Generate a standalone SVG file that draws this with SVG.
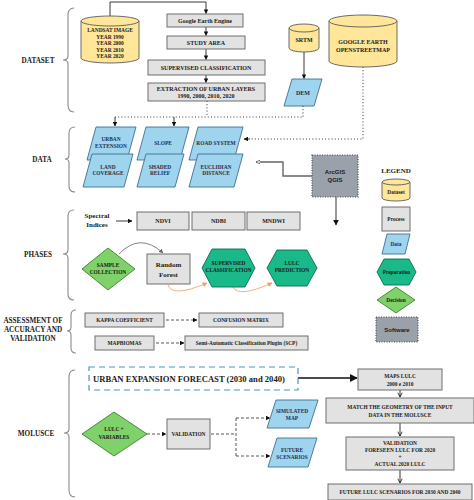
<svg xmlns="http://www.w3.org/2000/svg" width="474" height="500" viewBox="0 0 474 500">
<style>
text{font-family:"Liberation Serif","DejaVu Serif",serif;font-weight:bold;fill:#1a1a1a;text-anchor:middle}
.s{font-family:"Liberation Sans",Arial,sans-serif}
.lbl{font-size:7.2px}
.t5{font-size:5.4px}
.t6{font-size:6px}
.t7{font-size:7px}
.box{fill:#e2e2e2;stroke:#6e6e6e;stroke-width:1}
.cyl{fill:#ffe699;stroke:#5a5a5a;stroke-width:0.9}
.par{fill:#9fd4ef;stroke:#3d6f93;stroke-width:0.9}
.hex{fill:#19b98a;stroke:#0d6b50;stroke-width:0.9}
.dia{fill:#7fd16a;stroke:#3f7f2f;stroke-width:0.9}
.sw{fill:#9aa1aa;stroke:#4a4f55;stroke-width:1.2;stroke-dasharray:1 1.5}
.brace{fill:none;stroke:#8a8a8a;stroke-width:1.1}
.ln{fill:none;stroke:#222;stroke-width:0.9}
.dot{fill:none;stroke:#333;stroke-width:1;stroke-dasharray:1 2.2}
.dash{fill:none;stroke:#444;stroke-width:0.9;stroke-dasharray:3 2}
.pt{fill:#1f2f4a}
</style>
<defs>
<marker id="ah" viewBox="0 0 10 10" refX="9" refY="5" markerWidth="5" markerHeight="5" orient="auto"><path d="M0,0L10,5L0,10z" fill="#111"/></marker>
<marker id="av" viewBox="0 0 10 10" refX="9" refY="5" markerWidth="6" markerHeight="6" orient="auto"><path d="M1,1L9,5L1,9" fill="none" stroke="#111" stroke-width="1.5"/></marker>
<marker id="ao" viewBox="0 0 10 10" refX="9" refY="5" markerWidth="5" markerHeight="5" orient="auto"><path d="M0,0L10,5L0,10z" fill="#f0a060"/></marker>
<marker id="ag" viewBox="0 0 10 10" refX="9" refY="5" markerWidth="5" markerHeight="5" orient="auto"><path d="M0,0L10,5L0,10z" fill="#666"/></marker>
<marker id="aw" viewBox="0 0 10 10" refX="9" refY="5" markerWidth="3.2" markerHeight="3.2" orient="auto"><path d="M0,1L10,5L0,9z" fill="#fff" stroke="#444" stroke-width="1.5"/></marker>
</defs>

<g id="braces">
<path class="brace" d="M74,8 Q68,8 68,15 L68,56 Q68,60 63,60 Q68,60 68,64 L68,105 Q68,112 74,112"/>
<text class="lbl" x="38" y="62.5">DATASET</text>
<path class="brace" d="M75,127 Q69,127 69,133 L69,155 Q69,159 65,159 Q69,159 69,163 L69,186 Q69,192 75,192"/>
<text class="lbl" x="42" y="161.5">DATA</text>
<path class="brace" d="M74,210 Q68,210 68,216 L68,250 Q68,254 63,254 Q68,254 68,258 L68,294 Q68,300 74,300"/>
<text class="lbl" x="38" y="256.5">PHASES</text>
<path class="brace" d="M76,310 Q71,310 71,315 L71,327 Q71,331 67,331 Q71,331 71,335 L71,348 Q71,353 76,353"/>
<text class="lbl" x="33" y="322.5">ASSESSMENT OF</text>
<text class="lbl" x="33" y="331.5">ACCURACY AND</text>
<text class="lbl" x="33" y="340.5">VALIDATION</text>
<path class="brace" d="M75,370 Q69,370 69,377 L69,429 Q69,433 64,433 Q69,433 69,437 L69,490 Q69,497 75,497"/>
<text class="lbl" x="36" y="435.5">MOLUSCE</text>
</g>

<g id="connectors">
<path class="ln" d="M110,16 V2 H206 V13.5" marker-end="url(#ah)"/>
<path class="ln" d="M206,27 V35.5" marker-end="url(#ah)"/>
<path class="ln" d="M206,49 V59.5" marker-end="url(#ah)"/>
<path class="ln" d="M206,75 V82.5" marker-end="url(#ah)"/>
<path class="ln" d="M304,52 V78.5" marker-end="url(#ah)"/>
<path class="dot" d="M207,101 V117 M303,106 V117 M115,117 H303"/>
<path class="ln" d="M115,117 V126" marker-end="url(#ah)"/>
<path class="ln" d="M174,117 V126" marker-end="url(#ah)"/>
<path class="dot" d="M363,67 V139 H250"/>
<path class="ln" d="M250,139 H244" marker-end="url(#ah)"/>
<path fill="none" stroke="#666" stroke-width="1.4" d="M312,176 H283 V162 H256" marker-end="url(#aw)"/>
<path fill="none" stroke="#555" stroke-width="1.2" d="M336,197 V225" marker-end="url(#ah)"/>
<path class="ln" d="M116,221 H132" marker-end="url(#ah)"/>
<path fill="none" stroke="#777" stroke-width="0.9" d="M119,254 Q140,232 163,253" marker-end="url(#ag)"/>
<path fill="none" stroke="#f0b07a" stroke-width="1" d="M168,285 Q172,298 207,283" marker-end="url(#ao)"/>
<path fill="none" stroke="#f0b07a" stroke-width="1" d="M233,287 Q238,298 272,283" marker-end="url(#ao)"/>
<path class="dash" d="M166,320 H197" marker-end="url(#ah)"/>
<path class="dash" d="M156,343 H184" marker-end="url(#ah)"/>
<path fill="none" stroke="#111" stroke-width="1.6" d="M298,378 H357" marker-end="url(#ah)"/>
<path class="ln" d="M400,390 V397" marker-end="url(#av)"/>
<path class="ln" d="M400,423 V436" marker-end="url(#av)"/>
<path class="ln" d="M400,470 V483" marker-end="url(#av)"/>
<path class="dash" d="M147,434 H166" marker-end="url(#ah)"/>
<path class="dash" d="M211,434 H236 M236,418 V456"/>
<path class="dash" d="M236,418 H270" marker-end="url(#ah)"/>
<path class="dash" d="M236,456 H270" marker-end="url(#ah)"/>
</g>

<g id="landsat">
<path class="cyl" d="M81,21 V58 A29,5 0 0 0 139,58 V21"/>
<ellipse class="cyl" cx="110" cy="21" rx="29" ry="5"/>
<text class="t5" x="110" y="32">LANDSAT IMAGE</text>
<text class="t5" x="110" y="38.5">YEAR 1990</text>
<text class="t5" x="110" y="45">YEAR 2000</text>
<text class="t5" x="110" y="51.5">YEAR 2010</text>
<text class="t5" x="110" y="58">YEAR 2020</text>
</g>
<g id="gee"><rect class="box" x="167" y="14" width="76" height="13"/><text class="t6" x="205" y="22.5">Google Earth Engine</text></g>
<g id="study"><rect class="box" x="167" y="36" width="78" height="13"/><text class="t6" x="206" y="44.5">STUDY AREA</text></g>
<g id="supcls"><rect class="box" x="148" y="60" width="117" height="15"/><text class="t6" x="206" y="69.5">SUPERVISED CLASSIFICATION</text></g>
<g id="extract"><rect class="box" x="148" y="83" width="117" height="18"/><text class="t6" x="206" y="90.5">EXTRACTION OF URBAN LAYERS</text><text class="t6" x="206" y="97.5">1990, 2000, 2010, 2020</text></g>
<g id="srtm">
<path class="cyl" d="M289,28 V48 A15,4 0 0 0 319,48 V28"/>
<ellipse class="cyl" cx="304" cy="28" rx="15" ry="4"/>
<text class="t6" x="304" y="42">SRTM</text>
</g>
<g id="googleosm">
<path class="cyl" d="M329,21 V61 A34,6 0 0 0 397,61 V21"/>
<ellipse class="cyl" cx="363" cy="21" rx="34" ry="6"/>
<text class="t6" x="363" y="44">GOOGLE EARTH</text>
<text class="t6" x="363" y="52">OPENSTREETMAP</text>
</g>
<g id="dem"><polygon class="par" points="292,79 322,79 314,106 284,106"/><text class="t6 pt" x="303" y="94.5">DEM</text></g>

<g id="urban"><polygon class="par" points="96,127 136,127 127,160 87,160"/><text class="t5 pt" x="111" y="141">URBAN</text><text class="t5 pt" x="111" y="147.5">EXTENSION</text></g>
<g id="slope"><polygon class="par" points="146,127 189,127 180,160 137,160"/><text class="t5 pt" x="163" y="145">SLOPE</text></g>
<g id="road"><polygon class="par" points="198,127 243,127 234,160 189,160"/><text class="t5 pt" x="216" y="145">ROAD SYSTEM</text></g>
<g id="land"><polygon class="par" points="92,154 133,154 124,187 83,187"/><text class="t5 pt" x="108" y="168.5">LAND</text><text class="t5 pt" x="108" y="175">COVERAGE</text></g>
<g id="shaded"><polygon class="par" points="146,154 184,154 175,187 137,187"/><text class="t5 pt" x="160" y="168.5">SHADED</text><text class="t5 pt" x="160" y="175">RELIEF</text></g>
<g id="euclid"><polygon class="par" points="198,154 243,154 234,187 189,187"/><text class="t5 pt" x="216" y="168.5">EUCLIDIAN</text><text class="t5 pt" x="216" y="175">DISTANCE</text></g>

<g id="arcgis"><rect class="sw" x="312" y="155" width="46" height="42"/><text class="s t6" x="335" y="173.5">ArcGIS</text><text class="s t6" x="335" y="182">QGIS</text></g>

<g id="legend">
<text class="t7" x="396" y="173">LEGEND</text>
<path class="cyl" d="M382,182 V198 A14,3 0 0 0 410,198 V182"/>
<ellipse class="cyl" cx="396" cy="182" rx="14" ry="3"/>
<text class="t5" x="396" y="194">Dataset</text>
<rect class="box" x="382" y="207" width="28" height="24"/><text class="t5" x="396" y="220.5">Process</text>
<polygon class="par" points="387,234 410,234 405,254 382,254"/><text class="t5 pt" x="396" y="246">Data</text>
<polygon class="hex" points="377,272 384,259 409,259 416,272 409,285 384,285"/><text class="t5" x="396.5" y="274">Preparation</text>
<polygon class="dia" points="396,287 415,300 396,313 377,300"/><text class="t5" x="396" y="302">Decision</text>
<rect class="sw" x="376" y="317" width="42" height="25"/><text class="s t6" x="397" y="331.5">Software</text>
</g>

<g id="spectral"><text class="t7" x="97" y="218">Spectral</text><text class="t7" x="97" y="227">Indices</text></g>
<g id="ndvi"><rect class="box" x="137" y="212" width="52" height="18"/><text class="t6" x="163" y="223">NDVI</text></g>
<g id="ndbi"><rect class="box" x="192" y="212" width="53" height="18"/><text class="t6" x="218.5" y="223">NDBI</text></g>
<g id="mndwi"><rect class="box" x="247" y="212" width="53" height="18"/><text class="t6" x="273.5" y="223">MNDWI</text></g>
<g id="sample"><polygon class="dia" points="108,248 135,269 108,290 82,269"/><text class="t5" x="108" y="267">SAMPLE</text><text class="t5" x="108" y="273.5">COLLECTION</text></g>
<g id="rf"><rect class="box" x="147" y="254" width="43" height="30"/><text class="t7" x="168.5" y="267">Random</text><text class="t7" x="168.5" y="276.5">Forest</text></g>
<g id="suphex"><polygon class="hex" points="202,268 212,249 245,249 255,268 245,287 212,287"/><text class="t5" x="228.5" y="265">SUPERVISED</text><text class="t5" x="228.5" y="271.5">CLASSIFICATION</text></g>
<g id="lulcpred"><polygon class="hex" points="267,268 277,250 307,250 317,268 307,286 277,286"/><text class="t5" x="292" y="265">LULC</text><text class="t5" x="292" y="271.5">PREDICTION</text></g>

<g id="kappa"><rect class="box" x="85" y="313" width="79" height="14"/><text class="t5" x="124.5" y="322">KAPPA COEFFICIENT</text></g>
<g id="confusion"><rect class="box" x="199" y="313" width="84" height="14"/><text class="t5" x="241" y="322">CONFUSION MATRIX</text></g>
<g id="mapbiomas"><rect class="box" x="95" y="336" width="59" height="14"/><text class="t5" x="124.5" y="345">MAPBIOMAS</text></g>
<g id="scp"><rect class="box" x="185" y="336" width="123" height="14"/><text class="t5" x="246.5" y="345">Semi-Automatic Classification Plugin (SCP)</text></g>

<g id="forecast"><rect x="89" y="367" width="209" height="23" fill="#fff" stroke="#4a9bb5" stroke-width="1.2" stroke-dasharray="6 4"/><text x="93" y="381.5" style="text-anchor:start;font-size:8.6px">URBAN EXPANSION FORECAST (2030 and 2040)</text></g>
<g id="lulcvar"><polygon class="dia" points="114,412 147,434 114,456 82,434"/><text class="t5" x="114" y="431">LULC  +</text><text class="t5" x="114" y="438.5">VARIABLES</text></g>
<g id="validation1"><rect class="box" x="167" y="419" width="43" height="30"/><text class="t5" x="188.5" y="436">VALIDATION</text></g>
<g id="simmap"><polygon class="par" points="276,400 318,400 309,428 267,428"/><text class="t5 pt" x="292" y="413">SIMULATED</text><text class="t5 pt" x="292" y="420">MAP</text></g>
<g id="futsc"><polygon class="par" points="277,438 317,438 308,467 268,467"/><text class="t5 pt" x="292" y="452">FUTURE</text><text class="t5 pt" x="292" y="459">SCENARIOS</text></g>
<g id="mapslulc"><rect class="box" x="358" y="369" width="84" height="21"/><text class="t5" x="400" y="378">MAPS LULC</text><text class="t5" x="400" y="385.5">2000 e 2010</text></g>
<g id="match"><rect class="box" x="326" y="398" width="148" height="25"/><text class="t5" x="400" y="408.5">MATCH THE GEOMETRY OF THE INPUT</text><text class="t5" x="400" y="416.5">DATA IN THE MOLUSCE</text></g>
<g id="validation2"><rect class="box" x="346" y="437" width="108" height="33"/><text class="t5" x="400" y="445">VALIDATION</text><text class="t5" x="400" y="452">FORESEEN LULC FOR 2020</text><text class="t5" x="400" y="459">+</text><text class="t5" x="400" y="466">ACTUAL 2020 LULC</text></g>
<g id="future"><rect class="box" x="328" y="484" width="144" height="16"/><text class="t5" x="400" y="494">FUTURE LULC SCENARIOS FOR 2030 AND 2040</text></g>
</svg>
